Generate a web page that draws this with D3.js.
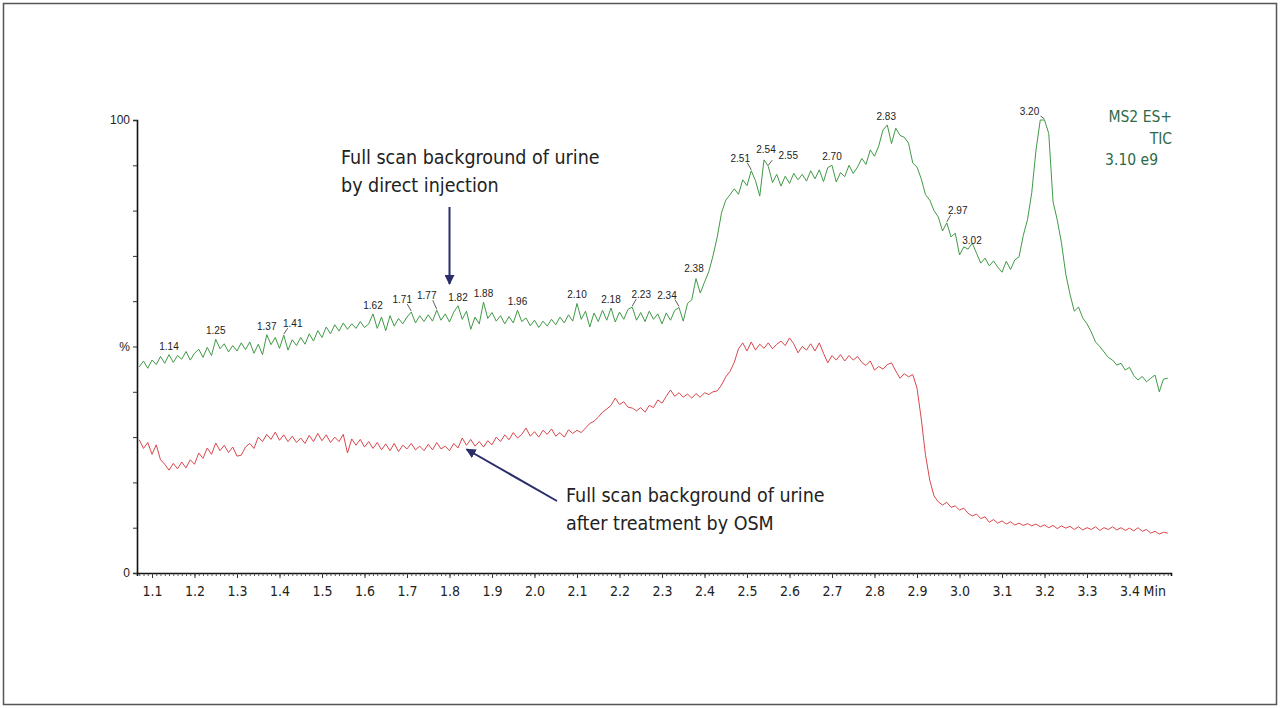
<!DOCTYPE html>
<html>
<head>
<meta charset="utf-8">
<script src="https://cdn.jsdelivr.net/npm/d3@7"></script>
<style>
	body { margin: 0; background: #fff; }
	svg { display: block; }
	.peak-label { font-family: "Liberation Sans", Arial, sans-serif; font-size: 10px; fill: #222; }
	.note { font-family: "Liberation Sans Narrow", "DejaVu Sans Condensed", sans-serif; font-size: 19.5px; fill: #222; }
	.axis-text { font-family: "Liberation Sans Narrow", "DejaVu Sans Condensed", sans-serif; font-size: 14px; fill: #222; }
	.y-text { font-family: "Liberation Sans", Arial, sans-serif; font-size: 12px; fill: #222; }
	.trace-info { font-family: "Liberation Sans Narrow", "DejaVu Sans Condensed", sans-serif; font-size: 15.5px; fill: #2f6a47; }
</style>
</head>
<body>
<script>
// retention time grid (min), one reading every 0.01 min
var tStart = 1.07;
var tStep = 0.01;

// direct injection, % of 3.10e9 TIC
var directInjection = [
	45.5, 46.8, 45.2, 47.0, 46.0, 47.8, 46.3, 48.2, 46.5, 48.0,
	47.2, 48.9, 47.0, 48.5, 49.4, 47.6, 49.8, 48.0, 51.6, 49.5,
	50.6, 48.8, 50.2, 49.0, 50.8, 49.3, 51.0, 48.5, 50.5, 48.2,
	52.6, 50.4, 52.0, 49.6, 52.5, 49.2, 51.5, 50.2, 52.0, 50.5,
	52.8, 51.2, 53.5, 52.0, 54.3, 52.8, 54.8, 53.4, 55.2, 53.8,
	55.0, 54.0, 55.5, 54.2, 55.0, 57.2, 54.0, 56.5, 53.5, 56.8,
	54.5, 56.2, 55.0, 56.5, 57.6, 55.2, 56.8, 55.5, 57.0, 55.6,
	58.0, 55.8, 57.2, 55.4, 57.6, 59.0, 56.0, 57.8, 53.8, 56.5,
	55.0, 59.8, 56.2, 57.5, 55.6, 56.8, 55.0, 56.6, 55.2, 58.0,
	55.5, 56.3, 54.6, 55.8, 54.2, 55.6, 54.5, 56.0, 54.8, 56.5,
	55.2, 57.0, 55.6, 59.5, 56.0, 57.8, 54.3, 57.4, 55.5, 58.0,
	55.8, 58.5, 55.4, 57.6, 56.0, 58.2, 58.7, 55.8, 57.5, 55.5,
	57.8, 56.0, 57.2, 55.0, 57.4, 55.8, 58.0, 58.6, 55.6, 59.5,
	60.3, 65.0, 61.8, 64.2, 66.5, 70.0, 74.2, 79.5, 82.3, 83.5,
	84.8, 83.6, 86.8, 85.5, 88.8, 86.6, 83.2, 91.2, 89.8, 86.2,
	88.0, 85.4, 87.6, 86.0, 88.2, 86.8, 88.0, 86.5, 88.8, 87.0,
	89.0, 86.4, 89.5, 90.0, 86.3, 88.4, 87.5, 90.0, 88.2, 89.6,
	91.5, 90.2, 93.4, 92.0, 94.3, 97.8, 98.9, 94.8, 98.2, 96.6,
	96.2, 94.9, 90.5, 89.6, 87.0, 83.5, 82.3, 80.0, 78.6, 75.5,
	77.3, 74.2, 75.0, 70.2, 72.0, 71.5, 72.8, 70.6, 68.4, 69.5,
	67.8, 68.9, 67.5, 66.4, 68.8, 67.0, 69.1, 69.8, 74.5, 78.0,
	84.0, 93.4, 100, 100, 97.0, 82.0, 77.9, 72.8, 66.0, 61.5,
	57.8, 58.7, 56.3, 55.0, 53.2, 51.0, 50.0, 48.8, 47.6, 47.0,
	45.9, 46.3, 44.8, 45.4, 43.6, 42.6, 43.4, 42.2, 43.0, 43.7,
	40.0, 42.8, 43.0
];

// after OSM treatment, same scale
var afterOSM = [
	29.4, 27.5, 28.8, 26.2, 28.3, 25.0, 24.0, 22.7, 24.2, 23.0,
	24.5, 23.2, 25.0, 24.0, 26.5, 25.3, 27.6, 26.2, 28.7, 27.0,
	28.2, 26.6, 27.8, 25.8, 26.0, 27.8, 28.6, 27.5, 30.0, 29.0,
	30.6, 29.5, 31.1, 29.3, 30.5, 29.0, 30.2, 28.8, 29.8, 28.6,
	30.4, 29.0, 30.8, 29.2, 30.5, 28.8, 30.0, 29.0, 30.6, 26.5,
	29.6, 28.2, 29.5, 27.8, 29.0, 27.5, 28.8, 27.2, 28.5, 27.0,
	28.6, 26.8, 28.2, 27.4, 28.6, 27.2, 28.0, 27.0, 28.4, 27.2,
	28.8, 27.4, 28.0, 27.0, 28.6, 27.6, 29.8, 28.2, 29.5, 28.0,
	29.0, 27.8, 29.2, 28.3, 30.0, 29.0, 30.5, 29.4, 31.0, 29.8,
	30.6, 32.0, 30.2, 31.2, 30.0, 31.5, 30.6, 31.8, 30.2, 31.0,
	30.0, 31.6, 30.8, 31.5, 31.0, 32.0, 33.0, 33.5, 34.4, 35.5,
	36.2, 37.0, 38.6, 37.2, 37.8, 36.6, 36.4, 35.8, 36.5, 35.5,
	37.0, 36.5, 38.2, 37.5, 39.0, 40.4, 39.0, 39.8, 38.8, 39.5,
	38.6, 39.6, 38.8, 39.8, 39.4, 40.0, 40.2, 41.5, 43.3, 44.5,
	46.5, 49.5, 50.8, 49.0, 51.0, 49.2, 50.5, 49.6, 50.8, 49.5,
	50.5, 51.2, 50.2, 51.9, 50.6, 48.6, 50.0, 49.2, 50.6, 49.0,
	50.8, 48.5, 46.4, 48.0, 47.0, 48.2, 46.8, 48.0, 47.0, 47.8,
	46.5, 45.8, 46.8, 44.8, 45.6, 45.0, 46.0, 46.4, 44.6, 43.0,
	44.0, 43.3, 43.8, 40.8, 34.0, 26.0, 20.5, 17.0, 15.7, 15.0,
	15.6, 14.5, 14.8, 13.9, 14.3, 13.2, 12.6, 13.0, 12.0, 12.4,
	11.2, 11.8, 11.0, 11.5, 10.8, 11.3, 10.6, 11.0, 10.5, 10.9,
	10.4, 10.8, 10.2, 10.6, 10.0, 10.5, 9.8, 10.4, 9.9, 10.3,
	9.6, 10.2, 9.5, 10.0, 9.6, 10.2, 9.4, 10.0, 9.6, 10.2,
	9.5, 10.0, 9.4, 9.9, 9.3, 10.0, 9.2, 9.6, 8.8, 9.2,
	8.6, 9.0, 8.8
];

// apex times marked on the direct injection trace
var peakLabels = ["1.14", "1.25", "1.37", "1.41", "1.62", "1.71", "1.77", "1.82", "1.88", "1.96",
	"2.10", "2.18", "2.23", "2.34", "2.38", "2.51", "2.54", "2.55", "2.70", "2.83", "2.97", "3.02", "3.20"];

var xTickLabels = ["1.1", "1.2", "1.3", "1.4", "1.5", "1.6", "1.7", "1.8", "1.9", "2.0", "2.1", "2.2",
	"2.3", "2.4", "2.5", "2.6", "2.7", "2.8", "2.9", "3.0", "3.1", "3.2", "3.3", "3.4"];

var traceInfo = ["MS2 ES+", "TIC", "3.10 e9"];

// label nudges [dx, dy, leader]
var nudge = {
	"1.41": [9, -3, true], "1.71": [-9, -4, true], "1.77": [-10, -6, true],
	"2.23": [9, -4, true], "2.34": [-12, -4, true], "2.38": [-2, -2, false],
	"2.51": [-11, -4, true], "2.54": [2, -2, false], "2.55": [20, -2, true],
	"2.83": [-1, 0, false], "2.97": [11, -4, true], "3.02": [4, 0, false],
	"3.20": [-15, 0, true]
};

var width = 1280, height = 708;
var svg = d3.select("body").append("svg")
	.attr("width", width)
	.attr("height", height);

svg.append("rect")
	.attr("x", 3.5).attr("y", 3.5)
	.attr("width", width - 7).attr("height", height - 7)
	.attr("fill", "none")
	.attr("stroke", "#555")
	.attr("stroke-width", 1.5);

var x = d3.scaleLinear().domain([1.0647, 3.4976]).range([137, 1171]);
var y = d3.scaleLinear().domain([0, 100]).range([573, 120]);

function timeAt(i) { return tStart + i * tStep; }

var line = d3.line()
	.x(function(d, i) { return x(timeAt(i)); })
	.y(function(d) { return y(d); });

// x axis: minor ticks every 0.01, labels every 0.1
var xMinor = d3.axisBottom(x)
	.tickValues(d3.range(107, 350).map(function(v) { return v / 100; }))
	.tickSize(3)
	.tickFormat("");
svg.append("g")
	.attr("transform", "translate(0," + y(0) + ")")
	.call(xMinor)
	.call(function(g) {
		g.select(".domain").attr("stroke", "#111").attr("stroke-width", 1.6);
		g.selectAll(".tick line").attr("stroke", "#333").attr("stroke-width", 0.8);
	});

var xMajor = d3.axisBottom(x)
	.tickValues(xTickLabels.map(Number))
	.tickSize(5)
	.tickPadding(8)
	.tickFormat(function(d, i) { return xTickLabels[i]; });
svg.append("g")
	.attr("transform", "translate(0," + y(0) + ")")
	.call(xMajor)
	.call(function(g) {
		g.select(".domain").remove();
		g.selectAll(".tick line").attr("stroke", "#333");
		g.selectAll("text").attr("class", "axis-text").attr("font-family", null).attr("font-size", null);
	});

svg.append("text")
	.attr("class", "axis-text")
	.attr("x", x(3.4) + 14)
	.attr("y", y(0) + 13)
	.attr("dy", "0.71em")
	.text("Min");

// y axis
var yAxis = d3.axisLeft(y)
	.tickValues([0, 10, 20, 30, 40, 50, 60, 70, 80, 90, 100])
	.tickSize(4)
	.tickPadding(3)
	.tickFormat(function(d) { return d === 100 ? "100" : d === 50 ? "%" : d === 0 ? "0" : ""; });
svg.append("g")
	.attr("transform", "translate(" + x.range()[0] + ",0)")
	.call(yAxis)
	.call(function(g) {
		g.select(".domain").attr("stroke", "#111").attr("stroke-width", 1.6);
		g.selectAll(".tick line").attr("stroke", "#333");
		g.selectAll("text").attr("class", "y-text").attr("font-family", null).attr("font-size", null);
	});

// traces
svg.append("path")
	.datum(afterOSM)
	.attr("d", line)
	.attr("fill", "none")
	.attr("stroke", "#d9474c")
	.attr("stroke-width", 1);

svg.append("path")
	.datum(directInjection)
	.attr("d", line)
	.attr("fill", "none")
	.attr("stroke", "#3f9a45")
	.attr("stroke-width", 1);

// peak labels
var peaks = svg.append("g");
peakLabels.forEach(function(lbl) {
	var t = +lbl;
	var i = Math.round((t - tStart) / tStep);
	var px = x(t), py = y(directInjection[i]);
	var n = nudge[lbl] || [0, 0, false];
	var tx = px + n[0], ty = py - 5 + n[1];
	if (n[2]) {
		var dir = n[0] > 0 ? 1 : -1;
		peaks.append("line")
			.attr("x1", px).attr("y1", py - 1)
			.attr("x2", px + dir * 4).attr("y2", ty + 1)
			.attr("stroke", "#333")
			.attr("stroke-width", 0.8);
	}
	peaks.append("text")
		.attr("class", "peak-label")
		.attr("x", tx)
		.attr("y", ty)
		.attr("text-anchor", "middle")
		.text(lbl);
});

// trace header, top right
svg.append("g").selectAll("text")
	.data(traceInfo)
	.enter().append("text")
	.attr("class", "trace-info")
	.attr("x", function(d, i) { return i === 2 ? 1158 : 1172; })
	.attr("y", function(d, i) { return 122 + i * 21.5; })
	.attr("text-anchor", "end")
	.text(function(d) { return d; });

// annotations with arrows
var defs = svg.append("defs");
defs.append("marker")
	.attr("id", "arrowHead")
	.attr("viewBox", "0 0 10 10")
	.attr("refX", 9).attr("refY", 5)
	.attr("markerWidth", 5).attr("markerHeight", 5)
	.attr("orient", "auto")
	.append("path")
	.attr("d", "M0,0 L10,5 L0,10 z")
	.attr("fill", "#2a2d6a");

var notes = svg.append("g");
notes.append("text").attr("class", "note").attr("x", 341).attr("y", 164).text("Full scan background of urine");
notes.append("text").attr("class", "note").attr("x", 341).attr("y", 192).text("by direct injection");
notes.append("text").attr("class", "note").attr("x", 566).attr("y", 502).text("Full scan background of urine");
notes.append("text").attr("class", "note").attr("x", 566).attr("y", 530).text("after treatment by OSM");

notes.append("line")
	.attr("x1", x(1.8)).attr("y1", 207)
	.attr("x2", x(1.8)).attr("y2", 284)
	.attr("stroke", "#2a2d6a").attr("stroke-width", 2)
	.attr("marker-end", "url(#arrowHead)");

notes.append("line")
	.attr("x1", 557).attr("y1", 501)
	.attr("x2", x(1.84)).attr("y2", y(afterOSM[77]) + 4)
	.attr("stroke", "#2a2d6a").attr("stroke-width", 2)
	.attr("marker-end", "url(#arrowHead)");
</script>
</body>
</html>
